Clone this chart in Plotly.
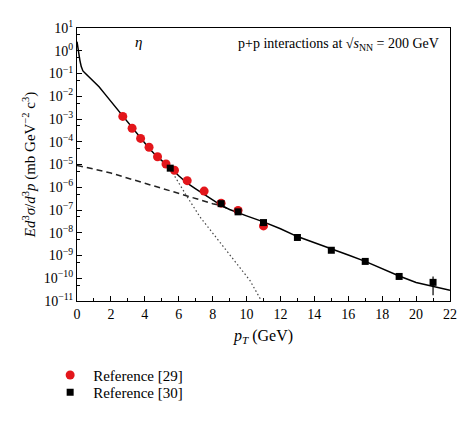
import plotly.graph_objects as go

# -- Reference [29] (red circles)
ref29_pt = [2.7, 3.25, 3.75, 4.25, 4.75, 5.25, 5.75, 6.5, 7.5, 8.5, 9.5, 11.0]
ref29_val = [1.3e-3, 3.9e-4, 1.4e-4, 5.7e-5, 2.2e-5, 1.05e-5, 5.6e-6, 1.95e-6, 6.8e-7, 2.0e-7, 9.5e-8, 2.0e-8]

# -- Reference [30] (black squares)
ref30_pt = [5.5, 8.5, 9.5, 11.0, 13.0, 15.0, 17.0, 19.0, 21.0]
ref30_val = [6.9e-6, 1.9e-7, 8.3e-8, 2.8e-8, 6.2e-9, 1.7e-9, 5.5e-10, 1.2e-10, 6.6e-11]
ref30_err_up = [0, 0, 0, 0, 0, 0, 0, 1.5e-11, 5.4e-11]
ref30_err_dn = [0, 0, 0, 0, 0, 0, 0, 2.5e-11, 4.8e-11]

# -- Total model (solid)
total_pt = [0, 0.05, 0.1, 0.17, 0.25, 0.35, 0.5, 0.7, 0.9, 1.3, 1.7, 2.1, 2.7, 3.25, 3.75,
            4.25, 4.75, 5.25, 5.5, 6.0, 6.5, 7.0, 7.5, 8.0, 8.5, 9.0, 9.5, 10, 11, 12, 13,
            14, 15, 16, 17, 18, 19, 20, 21, 22]
total_val = [2.5, 1.3, 0.8, 0.38, 0.2, 0.13, 0.1, 0.072, 0.054, 0.026, 0.0112, 4.8e-3,
             1.3e-3, 4e-4, 1.4e-4, 5.2e-5, 2.1e-5, 1.0e-5, 7.5e-6, 3.2e-6, 1.5e-6, 8.5e-7,
             5e-7, 2.8e-7, 1.6e-7, 1.05e-7, 7.5e-8, 5.5e-8, 3e-8, 1.5e-8, 6.8e-9, 3.7e-9,
             2e-9, 1.05e-9, 5.5e-10, 2.6e-10, 1.25e-10, 6.5e-11, 4.4e-11, 3e-11]

# -- Hard component (dashed)
hard_pt = [0, 0.5, 1, 2, 3, 4, 5, 6, 7, 8, 8.5, 9.0]
hard_val = [9e-6, 7.8e-6, 6.3e-6, 4.2e-6, 2.6e-6, 1.5e-6, 9e-7, 5.3e-7, 3.2e-7, 1.9e-7, 1.55e-7, 1.05e-7]

# -- Soft component (dotted)
soft_pt = [5.4, 5.8, 6.5, 7.25, 8.25, 9.2, 10.2, 10.85]
soft_val = [8.5e-6, 2.6e-6, 3.8e-7, 5e-8, 5.5e-9, 7.4e-10, 8e-11, 1.1e-11]

# -- y-axis decades (major) and 5x10^n (minor)
y_exponents = list(range(-11, 2))
y_minor = [5 * 10.0 ** e for e in range(-11, 1)]

FONT = "Liberation Serif"

fig = go.Figure()

fig.add_trace(go.Scatter(x=hard_pt, y=hard_val, mode="lines", showlegend=False,
                         line=dict(color="#222222", width=1.5, dash="6px,4px")))
fig.add_trace(go.Scatter(x=soft_pt, y=soft_val, mode="lines", showlegend=False,
                         line=dict(color="#444444", width=1.2, dash="1.5px,2.5px")))
fig.add_trace(go.Scatter(x=total_pt, y=total_val, mode="lines", showlegend=False,
                         line=dict(color="black", width=1.5)))

fig.add_trace(go.Scatter(x=ref29_pt, y=ref29_val, mode="markers", name="Reference [29]",
                         legend="legend",
                         marker=dict(symbol="circle", size=9, color="#e3161b")))
fig.add_trace(go.Scatter(x=ref30_pt, y=ref30_val, mode="markers", name="Reference [30]",
                         legend="legend2",
                         marker=dict(symbol="square", size=7, color="black"),
                         error_y=dict(type="data", symmetric=False, array=ref30_err_up,
                                      arrayminus=ref30_err_dn, color="black",
                                      thickness=1.2, width=0)))

fig.add_annotation(x=0.164, y=0.95, xref="paper", yref="paper", showarrow=False,
                   xanchor="center", yanchor="middle",
                   text="<i>η</i>", font=dict(family=FONT, size=15, color="black"))
fig.add_annotation(x=0.70, y=0.94, xref="paper", yref="paper", showarrow=False,
                   xanchor="center", yanchor="middle",
                   text="p+p interactions at √<i>s</i><sub>NN</sub> = 200 GeV",
                   font=dict(family=FONT, size=14, color="black"))

fig.update_xaxes(range=[0, 22], dtick=2, ticks="inside", ticklen=5, tickcolor="black",
                 minor=dict(dtick=1, ticks="inside", ticklen=3, tickcolor="black"),
                 showline=True, linecolor="black", linewidth=1.2, mirror=True,
                 showgrid=False, zeroline=False, automargin=False,
                 tickfont=dict(family=FONT, size=14, color="black"),
                 title=dict(text="<i>p<sub>T</sub></i> (GeV)", standoff=8,
                            font=dict(family=FONT, size=16, color="black")))
fig.update_yaxes(type="log", range=[-11, 1],
                 tickvals=[10.0 ** e for e in y_exponents],
                 ticktext=[f"10<sup>{str(e).replace('-', '−')}</sup>" for e in y_exponents],
                 ticks="inside", ticklen=5, tickcolor="black",
                 minor=dict(tickvals=y_minor, ticks="inside", ticklen=3, tickcolor="black"),
                 showline=True, linecolor="black", linewidth=1.2, mirror=True,
                 showgrid=False, zeroline=False, automargin=False,
                 tickfont=dict(family=FONT, size=14, color="black"),
                 title=dict(text="<i>Ed</i><sup>3</sup><i>σ</i>/<i>d</i><sup>3</sup><i>p</i> (mb GeV<sup>−2</sup> c<sup>3</sup>)",
                            standoff=4, font=dict(family=FONT, size=15, color="black")))

legend_style = dict(xanchor="left", yanchor="middle", bgcolor="rgba(0,0,0,0)",
                    font=dict(family=FONT, size=15, color="black"), itemwidth=36)

fig.update_layout(
    width=466, height=413,
    margin=dict(l=69, r=24, t=20, b=117),
    plot_bgcolor="white", paper_bgcolor="white",
    legend=dict(x=-0.08, y=-0.272, **legend_style),
    legend2=dict(x=-0.08, y=-0.335, **legend_style),
)

fig.write_html("out.html")
